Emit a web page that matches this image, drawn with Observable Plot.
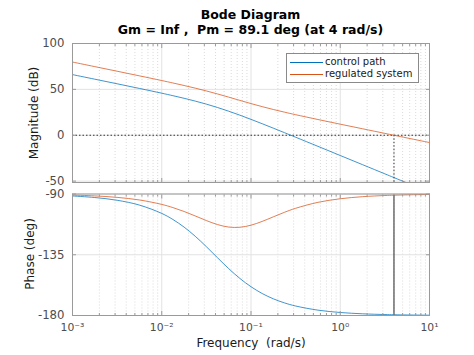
<!DOCTYPE html>
<html>
<head>
<meta charset="utf-8">
<script src="https://cdn.jsdelivr.net/npm/d3@7"></script>
<script src="https://cdn.jsdelivr.net/npm/@observablehq/plot@0.6"></script>
<style>
  html, body { margin: 0; padding: 0; background: #fff; }
  #chart { position: relative; width: 474px; height: 355px; background: #fff; font-family: "DejaVu Sans", sans-serif; overflow: hidden; }
  #chart svg { position: absolute; left: 0; overflow: visible; }
  .title { position: absolute; left: 72px; width: 357px; text-align: center; font-weight: bold; font-size: 12.5px; color: #000; line-height: 14.4px; white-space: nowrap; }
  .ylab { position: absolute; font-size: 12px; color: #1a1a1a; white-space: nowrap; transform: translate(-50%, -50%) rotate(-90deg); line-height: 14px; }
  .legend { position: absolute; left: 286px; top: 53px; width: 133px; height: 30px; box-sizing: border-box; border: 1px solid #8a8a8a; background: #fff; }
  .legend .ln { position: absolute; left: 3px; width: 33px; height: 0; border-top: 1px solid; }
  .legend .tx { position: absolute; left: 38px; font-size: 10px; color: #1a1a1a; line-height: 12px; white-space: nowrap; }
</style>
</head>
<body>
<div id="chart">
  <div class="title" style="top:8px">Bode Diagram</div>
  <div class="title" style="top:22.5px">Gm = Inf ,&nbsp; Pm = 89.1 deg (at 4 rad/s)</div>
</div>
<script>
// ---- data ----
const freq = [0.001, 0.001778, 0.003162, 0.005623, 0.01, 0.013335, 0.017783, 0.023714, 0.031623, 0.04217, 0.056234, 0.074989, 0.1, 0.13335, 0.17783, 0.23714, 0.31623, 0.56234, 1, 1.7783, 3.1623, 4, 5.6234, 10];
const ctrlMag = [66.10, 61.10, 56.08, 51.02, 45.83, 43.13, 40.29, 37.24, 33.91, 30.24, 26.22, 21.89, 17.31, 12.57, 7.72, 2.81, -2.14, -12.09, -22.08, -32.07, -42.07, -46.15, -52.07, -62.07];
const ctrlPhase = [-91.47, -92.61, -94.64, -98.21, -104.38, -108.87, -114.51, -121.30, -129.04, -137.24, -145.26, -152.52, -158.69, -163.70, -167.63, -170.66, -172.97, -176.03, -177.77, -178.74, -179.29, -179.44, -179.60, -179.78];
const regMag = [79.80, 74.79, 69.78, 64.74, 59.61, 56.97, 54.23, 51.35, 48.28, 45.00, 41.54, 38.00, 34.51, 31.19, 28.08, 25.17, 22.41, 17.16, 12.07, 7.05, 2.04, 0.00, -2.97, -7.96];
const regPhase = [-90.79, -91.41, -92.50, -94.42, -97.71, -100.06, -102.94, -106.25, -109.67, -112.64, -114.48, -114.65, -113.11, -110.31, -106.92, -103.55, -100.58, -96.18, -93.52, -91.99, -91.12, -90.89, -90.63, -90.35];
const seriesNames = ["control path", "regulated system"];
const seriesColors = ["#0072BD", "#D95319"];
const xTicks = [0.001, 0.01, 0.1, 1, 10];
const xTickLabels = ["10\u207B\u00B3", "10\u207B\u00B2", "10\u207B\u00B9", "10\u2070", "10\u00B9"];
const magTicks = [100, 50, 0, -50];
const magTickLabels = ["100", "50", "0", "-50"];
const phaseTicks = [-90, -135, -180];
const phaseTickLabels = ["-90", "-135", "-180"];
const magDomain = [-51.5, 100];
const phaseDomain = [-180, -90];
const crossFreq = 4;
const axisLabels = {mag: "Magnitude (dB)", phase: "Phase (deg)", freq: "Frequency  (rad/s)"};

// ---- derived ----
const minorTicks = xTicks.slice(0, -1).flatMap(d => [2,3,4,5,6,7,8,9].map(m => m * d));
const rows = (mag, ph, name) => freq.map((f, i) => ({f, mag: mag[i], phase: ph[i], name}));
const ctrl = rows(ctrlMag, ctrlPhase, seriesNames[0]);
const reg = rows(regMag, regPhase, seriesNames[1]);
const crossPhase = regPhase[freq.indexOf(crossFreq)];
const lookup = (ticks, labels) => d => { const i = ticks.indexOf(d); return i >= 0 ? labels[i] : ""; };

const W = 474, ML = 72, MR = 45;
const gridMajor = "#e2e2e2", gridMinor = "#dadada", boxColor = "#9a9a9a", tickText = "#4d4d4d";
const LW = 0.75;

function common(yTicks) {
  return [
    Plot.gridX(minorTicks, {stroke: gridMinor, strokeOpacity: 1, strokeDasharray: "1,2"}),
    Plot.gridX(xTicks, {stroke: gridMajor, strokeOpacity: 1}),
    Plot.gridY(yTicks, {stroke: gridMajor, strokeOpacity: 1}),
  ];
}
function frameAxes(yTicks, yLabels, bottomLabels) {
  return [
    Plot.frame({stroke: boxColor}),
    Plot.axisY(yTicks, {anchor: "left", tickSize: -4, tickPadding: 12, tickFormat: lookup(yTicks, yLabels), stroke: boxColor, fill: tickText, fontSize: 11.7, label: null}),
    Plot.axisY(yTicks, {anchor: "right", tickSize: -4, tickFormat: () => "", stroke: boxColor, label: null}),
    Plot.axisX(xTicks, {anchor: "top", tickSize: -4, tickFormat: () => "", stroke: boxColor, label: null}),
    Plot.axisX(minorTicks, {anchor: "top", tickSize: -2, tickFormat: () => "", stroke: boxColor, label: null}),
    Plot.axisX(minorTicks, {anchor: "bottom", tickSize: -2, tickFormat: () => "", stroke: boxColor, label: null}),
    Plot.axisX(xTicks, {anchor: "bottom", tickSize: -4, tickPadding: bottomLabels ? 12 : 0, tickFormat: bottomLabels ? lookup(xTicks, xTickLabels) : () => "", stroke: boxColor, fill: tickText, fontSize: 10.8, label: null}),
  ];
}

const magPlot = Plot.plot({
  width: W, height: 152, marginTop: 7, marginBottom: 6, marginLeft: ML, marginRight: MR,
  style: {background: "transparent", fontFamily: "DejaVu Sans", fontSize: 11},
  x: {type: "log", domain: [xTicks[0], xTicks[xTicks.length - 1]]},
  y: {domain: magDomain},
  marks: [
    ...common(magTicks),
    Plot.ruleY([0], {stroke: "#333", strokeDasharray: "1.5,2"}),
    Plot.ruleX([crossFreq], {y1: 0, y2: magDomain[0], stroke: "#333", strokeDasharray: "1.5,2"}),
    Plot.line(ctrl, {x: "f", y: "mag", stroke: seriesColors[0], strokeWidth: LW, curve: "catmull-rom", clip: true}),
    Plot.line(reg, {x: "f", y: "mag", stroke: seriesColors[1], strokeWidth: LW, curve: "catmull-rom", clip: true}),
    ...frameAxes(magTicks, magTickLabels, false)
  ]
});
magPlot.style.top = "36px";

const phasePlot = Plot.plot({
  width: W, height: 169, marginTop: 7.5, marginBottom: 40, marginLeft: ML, marginRight: MR,
  style: {background: "transparent", fontFamily: "DejaVu Sans", fontSize: 11},
  x: {type: "log", domain: [xTicks[0], xTicks[xTicks.length - 1]]},
  y: {domain: phaseDomain},
  marks: [
    ...common(phaseTicks),
    Plot.line(ctrl, {x: "f", y: "phase", stroke: seriesColors[0], strokeWidth: LW, curve: "catmull-rom", clip: true}),
    Plot.line(reg, {x: "f", y: "phase", stroke: seriesColors[1], strokeWidth: LW, curve: "catmull-rom", clip: true}),
    Plot.ruleX([crossFreq], {y1: phaseDomain[0], y2: crossPhase, stroke: "#262626", strokeWidth: 1}),
    ...frameAxes(phaseTicks, phaseTickLabels, true),
    Plot.text([axisLabels.freq], {frameAnchor: "bottom", dy: 31, fontSize: 12, fill: "#1a1a1a"})
  ]
});
phasePlot.style.top = "186px";

const chart = document.getElementById("chart");
chart.appendChild(magPlot);
chart.appendChild(phasePlot);

// rotated y-axis labels
[[axisLabels.mag, 34, 112.5], [axisLabels.phase, 30, 254]].forEach(([t, x, y]) => {
  const d = document.createElement("div");
  d.className = "ylab";
  d.style.left = x + "px";
  d.style.top = y + "px";
  d.textContent = t;
  chart.appendChild(d);
});

// legend
const lg = document.createElement("div");
lg.className = "legend";
seriesNames.forEach((name, i) => {
  const ln = document.createElement("div");
  ln.className = "ln";
  ln.style.top = (8 + i * 12) + "px";
  ln.style.borderTopColor = seriesColors[i];
  const tx = document.createElement("div");
  tx.className = "tx";
  tx.style.top = (2 + i * 12) + "px";
  tx.textContent = name;
  lg.appendChild(ln); lg.appendChild(tx);
});
chart.appendChild(lg);
</script>
</body>
</html>
